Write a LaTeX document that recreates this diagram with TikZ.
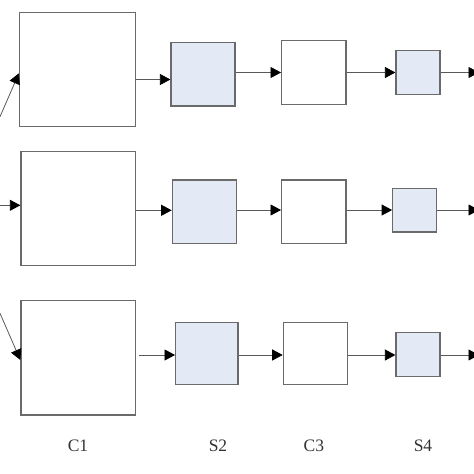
\documentclass[tikz,border=0pt]{standalone}
\usepackage{fontspec}
\setmainfont{Liberation Serif}
\usetikzlibrary{arrows.meta}
\definecolor{boxline}{HTML}{6A6A6A}
\definecolor{mapfill}{HTML}{E4EAF5}
\tikzset{
	layer/.style={draw=boxline, line width=1.2pt, fill=white, inner sep=0pt},
	fmap/.style={layer, fill=mapfill},
	link/.style={draw=black!65, line width=0.8pt, -{Triangle[length=10.5pt,width=11pt,black]}},
	lbl/.style={text=black!80, font=\fontsize{17.5}{20}\selectfont, inner sep=0pt}
}

\begin{document}
\begin{tikzpicture}[x=1pt,y=-1pt]
	\useasboundingbox (0,0) rectangle (474,474);
	% first row
	\node[layer, minimum width=116pt, minimum height=114pt] (c1a) at (77.5,69.5) {};
	\node[fmap, minimum width=64pt, minimum height=63.5pt] (s2a) at (203,74.2) {};
	\node[layer, minimum width=64.3pt, minimum height=63.6pt] (c3a) at (313.8,72.5) {};
	\node[fmap, minimum width=44pt, minimum height=43.6pt] (s4a) at (418,72.5) {};
	\coordinate (ina) at (0,116.7);
	\coordinate (outa) at (479,72.5);
	\draw[link] (ina) -- (c1a.west |- 0,73.3);
	\draw[link] (c1a.east |- 0,79.5) -- (s2a.west |- 0,79.5);
	\draw[link] (s2a.east |- 0,72.5) -- (c3a.west);
	\draw[link] (c3a.east) -- (s4a.west);
	\draw[link] (s4a.east) -- (outa);
	% second row
	\node[layer, minimum width=114.7pt, minimum height=114pt] (c1b) at (78.3,208.7) {};
	\node[fmap, minimum width=64.4pt, minimum height=63.7pt] (s2b) at (204.5,211.8) {};
	\node[layer, minimum width=64.3pt, minimum height=63.7pt] (c3b) at (313.8,211.8) {};
	\node[fmap, minimum width=44pt, minimum height=43.7pt] (s4b) at (414.7,210.2) {};
	\coordinate (inb) at (0,205.3);
	\coordinate (outb) at (479,210);
	\draw[link] (inb) -- (c1b.west |- inb);
	\draw[link] (c1b.east |- 0,210.3) -- (s2b.west |- 0,210.3);
	\draw[link] (s2b.east |- 0,210) -- (c3b.west |- 0,210);
	\draw[link] (c3b.east |- 0,210) -- (s4b.west |- 0,210);
	\draw[link] (s4b.east |- 0,210) -- (outb);
	% third row
	\node[layer, minimum width=114.7pt, minimum height=114.3pt] (c1c) at (78.3,357.8) {};
	\node[fmap, minimum width=62.3pt, minimum height=62pt] (s2c) at (206.8,353.3) {};
	\node[layer, minimum width=64.4pt, minimum height=62pt] (c3c) at (315.5,353.3) {};
	\node[fmap, minimum width=44pt, minimum height=43.6pt] (s4c) at (418,354.5) {};
	\coordinate (inc) at (0,313.3);
	\coordinate (outc) at (479,355);
	\draw[link] (inc) -- (c1c.west |- 0,360);
	\draw[link] ([xshift=2.6pt]c1c.east |- 0,355) -- (s2c.west |- 0,355);
	\draw[link] (s2c.east |- 0,355) -- (c3c.west |- 0,355);
	\draw[link] (c3c.east |- 0,355) -- (s4c.west |- 0,355);
	\draw[link] (s4c.east |- 0,355) -- (outc);
	% labels
	\node[lbl] (lc1) at (78,446) {C1};
	\node[lbl] (ls2) at (218,446) {S2};
	\node[lbl] (lc3) at (313.8,446) {C3};
	\node[lbl] (ls4) at (423,446) {S4};
\end{tikzpicture}
\end{document}
